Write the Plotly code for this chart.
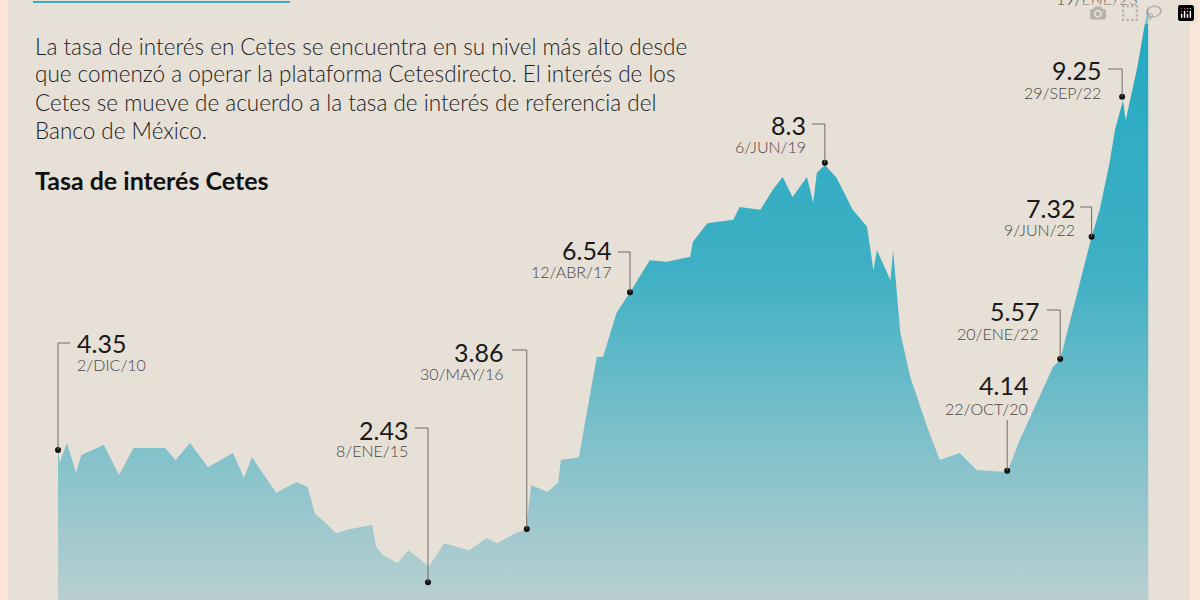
import plotly.graph_objects as go

# Series (decimal year, rate %)
years = [2010.92,2010.94,2011.02,2011.12,2011.18,2011.43,2011.60,2011.76,2012.11,2012.23,2012.39,2012.59,
         2012.87,2012.99,2013.08,2013.20,2013.35,2013.58,2013.70,2013.78,2014.02,2014.14,2014.42,2014.46,
         2014.54,2014.70,2014.82,2014.94,2015.05,2015.22,2015.50,2015.69,2015.81,2016.01,2016.13,2016.19,
         2016.37,2016.49,2016.52,2016.72,2016.79,2016.92,2016.99,2017.14,2017.29,2017.51,2017.70,2017.96,
         2017.99,2018.15,2018.44,2018.51,2018.74,2018.88,2018.99,2019.10,2019.26,2019.33,2019.37,2019.46,
         2019.59,2019.71,2019.77,2019.93,2020.00,2020.04,2020.19,2020.22,2020.30,2020.41,2020.60,2020.74,
         2020.96,2021.15,2021.49,2021.63,2021.78,2022.00,2022.08,2022.28,2022.43,2022.52,2022.63,2022.69,
         2022.78,2022.81,2022.94,2023.06]
rates = [4.29,4.12,4.39,3.97,4.22,4.36,3.94,4.32,4.32,4.15,4.39,4.05,
         4.25,3.90,4.19,3.97,3.69,3.84,3.77,3.40,3.12,3.17,3.24,2.93,
         2.81,2.70,2.88,2.77,2.65,2.98,2.88,3.05,2.98,3.12,3.17,3.80,
         3.70,3.83,4.15,4.19,4.67,5.60,5.60,6.22,6.51,6.96,6.94,7.01,
         7.22,7.48,7.53,7.71,7.67,7.95,8.13,7.85,8.13,7.77,8.19,8.30,
         8.12,7.81,7.67,7.43,6.82,7.10,6.68,7.10,5.94,5.32,4.61,4.15,
         4.25,4.01,3.98,4.43,4.85,5.46,5.56,6.54,7.29,7.67,8.33,8.79,
         9.21,8.93,9.68,10.55]

# Highlighted points (as drawn), with their labels
mark_x = [2010.92,2015.04,2016.14,2017.29,2019.46,2021.49,2022.08,2022.43,2022.77]
mark_y = [4.29,2.43,3.18,6.51,8.33,4.00,5.57,7.29,9.26]
mark_val = ["4.35","2.43","3.86","6.54","8.3","4.14","5.57","7.32","9.25"]
mark_date = ["2/DIC/10","8/ENE/15","30/MAY/16","12/ABR/17","6/JUN/19","22/OCT/20","20/ENE/22","9/JUN/22","29/SEP/22"]

W, H = 1200, 600
X0, PXY = 2010.92 - 58/89.8, 89.8
YTOP, PXV = 10.62, 71.1
def px(x): return X0 + x/PXY
def py(y): return YTOP - y/PXV

fig = go.Figure()
fig.add_trace(go.Scatter(x=years + [years[-1]+0.001], y=rates + [0], mode="lines", line=dict(width=0),
    fill="tozeroy", fillgradient=dict(type="vertical", start=py(600), stop=py(0),
    colorscale=[[0, "#b9cfd0"], [0.55, "#3fb0c4"], [1, "#22a8c2"]]), hoverinfo="skip"))
fig.add_trace(go.Scatter(x=mark_x, y=mark_y, mode="markers", marker=dict(color="#111", size=6), hoverinfo="skip"))

lay = [("left", 75, 343, 365, 70, 343),
       ("right", 410, 430, 450, 415, 428),
       ("right", 505, 352, 373, 512, 350),
       ("right", 613, 250, 271, 618, 252),
       ("right", 808, 125, 146, 812, 124),
       ("right", 1030, 385, 408, None, 420),
       ("right", 1041, 311, 333, 1047, 310),
       ("right", 1077, 208, 230, 1080, 207),
       ("right", 1103, 70, 92, 1108, 69)]
shapes = []
ann = []
lc = "#6e6a66"
for i, (al, tx, vy, dy, tkx, tky) in enumerate(lay):
    mx, my = mark_x[i], mark_y[i]
    shapes.append(dict(type="line", x0=mx, x1=mx, y0=my, y1=py(tky), line=dict(color=lc, width=1)))
    if tkx is not None:
        shapes.append(dict(type="line", x0=px(tkx), x1=mx, y0=py(tky), y1=py(tky), line=dict(color=lc, width=1)))
    xa = "left" if al == "left" else "right"
    ann.append(dict(x=tx/W, y=1-vy/H, xref="paper", yref="paper", text=mark_val[i], showarrow=False,
                    xanchor=xa, yanchor="middle", font=dict(family="Lato", size=25, color="#1a1a1a", weight=400)))
    ann.append(dict(x=tx/W, y=1-dy/H, xref="paper", yref="paper", text=mark_date[i], showarrow=False,
                    xanchor=xa, yanchor="middle", font=dict(family="Lato", size=16, color="#4a4642", weight=300)))
ann.append(dict(x=1140/W, y=1+1/H, xref="paper", yref="paper", text="19/ENE/23", showarrow=False,
                xanchor="right", yanchor="middle", font=dict(family="Lato", size=16, color="#4a4642", weight=300)))

body = ["La tasa de interés en Cetes se encuentra en su nivel más alto desde",
        "que comenzó a operar la plataforma Cetesdirecto. El interés de los",
        "Cetes se mueve de acuerdo a la tasa de interés de referencia del",
        "Banco de México."]
for k, line in enumerate(body):
    ann.append(dict(x=33/W, y=1-(46+k*28)/H, xref="paper", yref="paper", text=line, showarrow=False,
                    xanchor="left", yanchor="middle", font=dict(family="Lato", size=22.5, color="#222", weight=300)))
ann.append(dict(x=33/W, y=1-180/H, xref="paper", yref="paper", text="<b>Tasa de interés Cetes</b>", showarrow=False,
                xanchor="left", yanchor="middle", font=dict(family="Lato", size=25, color="#111", weight=900)))

shapes += [dict(type="rect", xref="paper", yref="paper", x0=0, x1=8/W, y0=0, y1=1, fillcolor="#fbe6d9", line=dict(width=0), layer="below"),
           dict(type="rect", xref="paper", yref="paper", x0=1190/W, x1=1, y0=0, y1=1, fillcolor="#fbe6d9", line=dict(width=0), layer="below"),
           dict(type="line", xref="paper", yref="paper", x0=33/W, x1=290/W, y0=1-2/H, y1=1-2/H, line=dict(color="#3aaebf", width=2))]

fig.update_layout(width=W, height=H, margin=dict(l=0, r=0, t=0, b=0), paper_bgcolor="#e6e0d7", plot_bgcolor="rgba(0,0,0,0)",
                  showlegend=False, shapes=shapes, annotations=ann,
                  xaxis=dict(range=[px(0), px(W)], visible=False, fixedrange=True),
                  yaxis=dict(range=[py(H), py(0)], visible=False, fixedrange=True))
fig.write_html("out.html", post_script="document.body.style.margin='0';document.body.style.overflow='hidden';")
